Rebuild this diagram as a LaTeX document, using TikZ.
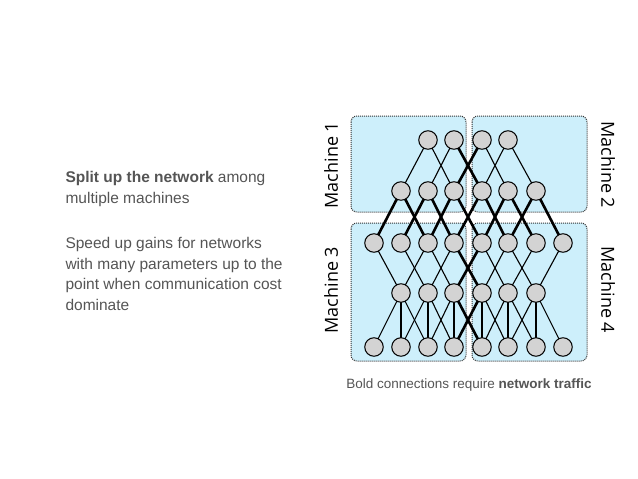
\documentclass[tikz,border=0pt]{standalone}
\usepackage{fontspec}
\setmainfont{Liberation Sans}
\newfontfamily\gill{Open Sans}
\definecolor{txt}{HTML}{555555}
\definecolor{boxfill}{HTML}{CDEFFB}
\definecolor{nodefill}{HTML}{D3D3D3}
\begin{document}
\begin{tikzpicture}[x=1pt,y=-1pt,
  mbox/.style={draw=black!80,densely dotted,line width=1pt,fill=boxfill,rounded corners=6pt},
  neuron/.style={circle,draw=black,line width=1pt,fill=nodefill,minimum size=18.5pt,inner sep=0pt},
  lnk/.style={line width=1.1pt},
  blnk/.style={line width=2.6pt},
  mlab/.style={font=\gill\fontsize{18}{20}\selectfont},
  body/.style={font=\fontsize{15.5}{20}\selectfont,text=txt,anchor=base west}]
\useasboundingbox (0,0) rectangle (638,479);
\fill[white] (0,0) rectangle (638,479);
\draw[mbox] (351,116) rectangle (466,212);
\draw[mbox] (472,116) rectangle (587,212);
\draw[mbox] (351,223) rectangle (466,361);
\draw[mbox] (472,223) rectangle (587,361);
\node[mlab,rotate=90] (m1) at (331,165) {Machine 1};
\node[mlab,rotate=90] (m3) at (331,290) {Machine 3};
\node[mlab,rotate=-90] (m2) at (608,165) {Machine 2};
\node[mlab,rotate=-90] (m4) at (608,290) {Machine 4};
% nodes
\foreach \c/\x in {3/428,4/454,5/482,6/508}{\coordinate (p1-\c) at (\x,140);}
\foreach \c/\x in {2/401,3/428,4/454,5/482,6/508,7/536}{\coordinate (p2-\c) at (\x,191);\coordinate (p4-\c) at (\x,293);}
\foreach \c/\x in {1/374,2/401,3/428,4/454,5/482,6/508,7/536,8/563}{\coordinate (p3-\c) at (\x,243);\coordinate (p5-\c) at (\x,347);}
% edges row1-row2
\foreach \k in {3,4,5,6}{
  \pgfmathtruncatemacro\a{\k-1}\pgfmathtruncatemacro\b{\k+1}
  \ifnum\k=4 \draw[lnk] (p1-\k) -- (p2-\a); \draw[blnk] (p1-\k) -- (p2-\b);
  \else\ifnum\k=5 \draw[blnk] (p1-\k) -- (p2-\a); \draw[lnk] (p1-\k) -- (p2-\b);
  \else \draw[lnk] (p1-\k) -- (p2-\a); \draw[lnk] (p1-\k) -- (p2-\b);\fi\fi}
% row2-row3 all bold
\foreach \k in {2,...,7}{
  \pgfmathtruncatemacro\a{\k-1}\pgfmathtruncatemacro\b{\k+1}
  \draw[blnk] (p2-\k) -- (p3-\a); \draw[blnk] (p2-\k) -- (p3-\b);}
% row3-row4
\foreach \k in {2,...,7}{
  \pgfmathtruncatemacro\a{\k-1}\pgfmathtruncatemacro\b{\k+1}
  \ifnum\k=4 \draw[lnk] (p4-\k) -- (p3-\a); \draw[blnk] (p4-\k) -- (p3-\b);
  \else\ifnum\k=5 \draw[blnk] (p4-\k) -- (p3-\a); \draw[lnk] (p4-\k) -- (p3-\b);
  \else \draw[lnk] (p4-\k) -- (p3-\a); \draw[lnk] (p4-\k) -- (p3-\b);\fi\fi}
% row4-row5
\foreach \k in {2,...,7}{
  \pgfmathtruncatemacro\a{\k-1}\pgfmathtruncatemacro\b{\k+1}
  \draw[lnk] (p4-\k) -- (p5-\k);
  \ifnum\k=4 \draw[lnk] (p4-\k) -- (p5-\a); \draw[blnk] (p4-\k) -- (p5-\b);
  \else\ifnum\k=5 \draw[blnk] (p4-\k) -- (p5-\a); \draw[lnk] (p4-\k) -- (p5-\b);
  \else \draw[lnk] (p4-\k) -- (p5-\a); \draw[lnk] (p4-\k) -- (p5-\b);\fi\fi}
% neuron circles
\foreach \p in {p1-3,p1-4,p1-5,p1-6,p2-2,p2-3,p2-4,p2-5,p2-6,p2-7,p4-2,p4-3,p4-4,p4-5,p4-6,p4-7,
  p3-1,p3-2,p3-3,p3-4,p3-5,p3-6,p3-7,p3-8,p5-1,p5-2,p5-3,p5-4,p5-5,p5-6,p5-7,p5-8}{
  \node[neuron] (n\p) at (\p) {};}
% text
\node[body] (t1) at (62,182) {\textbf{Split up the network} among};
\node[body] (t2) at (62,203) {multiple machines};
\node[body] (t3) at (62,248) {Speed up gains for networks};
\node[body] (t4) at (62,269) {with many parameters up to the};
\node[body] (t5) at (62,289) {point when communication cost};
\node[body] (t6) at (62,310) {dominate};
\node[font=\fontsize{13.5}{15}\selectfont,text=txt] (cap) at (469,385) {Bold connections require \textbf{network traffic}};
\end{tikzpicture}
\end{document}
